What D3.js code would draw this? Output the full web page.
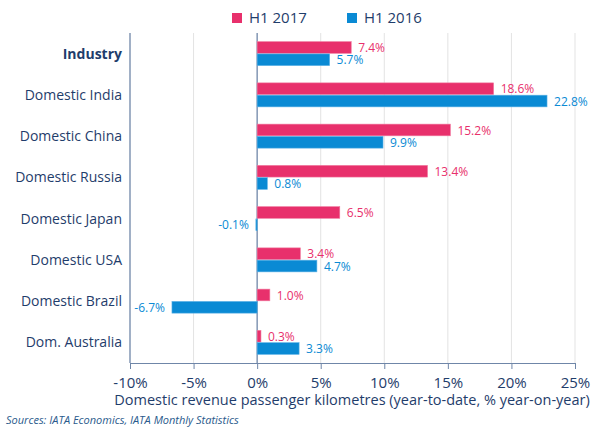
<!DOCTYPE html>
<html>
<head>
<meta charset="utf-8">
<script src="https://cdn.jsdelivr.net/npm/d3@7"></script>
<style>
  body { margin: 0; background: #fff; }
  text { font-family: "Open Sans", "DejaVu Sans", sans-serif; }
</style>
</head>
<body>
<div id="container"></div>
<script>
/* CONSTANTS AND GLOBALS */
const width = 600, height = 440;
const navy = "#1f3d6b", pink = "#e8306c", blue = "#0a8ad4";

const categories = ["Industry", "Domestic India", "Domestic China", "Domestic Russia",
                    "Domestic Japan", "Domestic USA", "Domestic Brazil", "Dom. Australia"];
const h1_2017 = [7.4, 18.6, 15.2, 13.4, 6.5, 3.4, 1.0, 0.3];
const h1_2016 = [5.7, 22.8, 9.9, 0.8, -0.1, 4.7, -6.7, 3.3];
const series = ["H1 2017", "H1 2016"];
const ticks = [-10, -5, 0, 5, 10, 15, 20, 25];

const svg = d3.select("#container").append("svg")
  .attr("width", width).attr("height", height);

/* SCALES */
const xScale = d3.scaleLinear().domain([-10, 25]).range([130, 575]);
const yScale = d3.scaleBand().domain(categories).range([33, 363]);
const subScale = d3.scaleBand().domain(series).range([yScale.bandwidth() / 2 - 12, yScale.bandwidth() / 2 + 12]).paddingInner(0.05);
const colorScale = d3.scaleOrdinal().domain(series).range([pink, blue]);

// gridlines
svg.selectAll(".grid")
  .data(ticks)
  .join("line")
  .attr("x1", d => xScale(d)).attr("x2", d => xScale(d))
  .attr("y1", 33).attr("y2", 363)
  .attr("stroke", d => (d === -10 || d === 0) ? "#6f86a8" : "#e3e3e3")
  .attr("stroke-width", d => (d === -10 || d === 0) ? 1.3 : 1);

// x axis
const xAxis = d3.axisBottom(xScale).tickValues(ticks).tickFormat(d => d + "%").tickSize(6).tickPadding(8);
const gx = svg.append("g")
  .attr("transform", "translate(0,363)")
  .call(xAxis);
gx.select(".domain").attr("stroke", "#6f86a8");
gx.selectAll(".tick line").attr("stroke", "#6f86a8");
gx.selectAll(".tick text").attr("fill", navy).style("font-size", "15px");

svg.append("text")
  .attr("x", 352).attr("y", 405)
  .attr("text-anchor", "middle")
  .attr("fill", navy)
  .style("font-size", "14.5px")
  .text("Domestic revenue passenger kilometres (year-to-date, % year-on-year)");

svg.append("text")
  .attr("x", 6).attr("y", 424)
  .attr("fill", "#2a5a8c")
  .style("font-size", "11px").style("font-style", "italic")
  .text("Sources: IATA Economics, IATA Monthly Statistics");

// category labels
svg.selectAll(".cat")
  .data(categories)
  .join("text")
  .attr("x", 122)
  .attr("y", d => yScale(d) + yScale.bandwidth() / 2)
  .attr("dy", "0.35em")
  .attr("text-anchor", "end")
  .attr("fill", navy)
  .style("font-size", "14px")
  .style("font-weight", (d, i) => i === 0 ? "bold" : "normal")
  .text(d => d);

/* BARS */
const rows = categories.map((c, i) => [
  {cat: c, s: series[0], v: h1_2017[i]},
  {cat: c, s: series[1], v: h1_2016[i]}
]).flat();

svg.selectAll(".bar")
  .data(rows)
  .join("rect")
  .attr("x", d => xScale(Math.min(0, d.v)))
  .attr("y", d => yScale(d.cat) + subScale(d.s))
  .attr("width", d => Math.abs(xScale(d.v) - xScale(0)))
  .attr("height", subScale.bandwidth())
  .attr("fill", d => colorScale(d.s))
  .attr("stroke", d => d.s === series[0] ? "#f07a9f" : "#5cb2e6")
  .attr("stroke-width", 0.6);

svg.selectAll(".val")
  .data(rows)
  .join("text")
  .attr("x", d => d.v < 0 ? xScale(d.v) - 7 : xScale(d.v) + 7)
  .attr("y", d => yScale(d.cat) + subScale(d.s) + subScale.bandwidth() / 2)
  .attr("dy", "0.38em")
  .attr("text-anchor", d => d.v < 0 ? "end" : "start")
  .attr("fill", d => colorScale(d.s))
  .style("font-size", "12px")
  .text(d => d.v.toFixed(1) + "%");

/* LEGEND */
const legendX = [232, 347];
series.forEach((s, i) => {
  svg.append("rect")
    .attr("x", legendX[i]).attr("y", 13)
    .attr("width", 10).attr("height", 10)
    .attr("fill", colorScale(s));
  svg.append("text")
    .attr("x", legendX[i] + 17).attr("y", 18)
    .attr("dy", "0.36em")
    .attr("fill", navy)
    .style("font-size", "15px")
    .text(s);
});
</script>
</body>
</html>
